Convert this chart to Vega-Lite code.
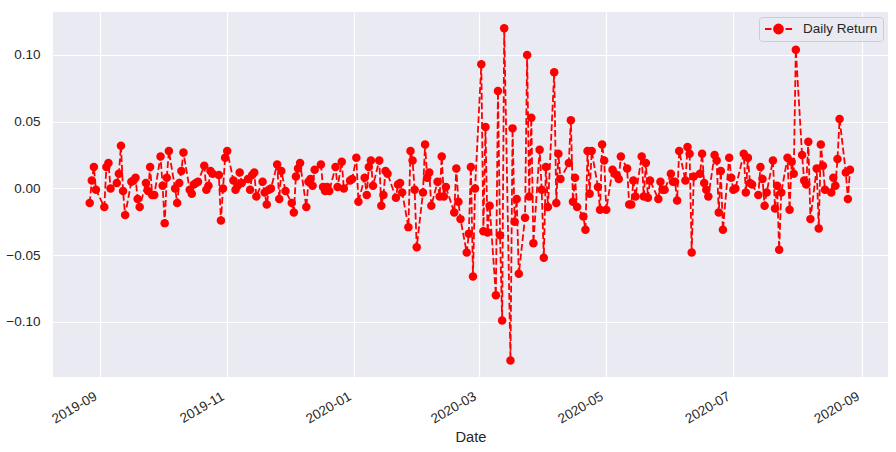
{
  "$schema": "https://vega.github.io/schema/vega-lite/v6.json",
  "width": 835,
  "height": 365,
  "autosize": "none",
  "padding": {"left": 53, "top": 12, "right": 8, "bottom": 75},
  "background": "white",
  "config": {
    "view": {"fill": "#EAEAF2", "stroke": null},
    "font": "Liberation Sans",
    "axis": {
      "domain": false,
      "ticks": false,
      "grid": true,
      "gridColor": "white",
      "gridWidth": 1.2,
      "labelFont": "Liberation Sans",
      "labelFontSize": 13.5,
      "labelColor": "#262626",
      "titleFont": "Liberation Sans",
      "titleFontSize": 14.7,
      "titleFontWeight": "normal",
      "titleColor": "#262626"
    }
  },
  "data": {
    "values": [
      {"Date": "2019-08-27", "Daily Return": -0.011},
      {"Date": "2019-08-28", "Daily Return": 0.006},
      {"Date": "2019-08-29", "Daily Return": 0.016},
      {"Date": "2019-08-30", "Daily Return": -0.001},
      {"Date": "2019-09-03", "Daily Return": -0.014},
      {"Date": "2019-09-04", "Daily Return": 0.016},
      {"Date": "2019-09-05", "Daily Return": 0.019},
      {"Date": "2019-09-06", "Daily Return": 0.000},
      {"Date": "2019-09-09", "Daily Return": 0.004},
      {"Date": "2019-09-10", "Daily Return": 0.011},
      {"Date": "2019-09-11", "Daily Return": 0.032},
      {"Date": "2019-09-12", "Daily Return": -0.002},
      {"Date": "2019-09-13", "Daily Return": -0.020},
      {"Date": "2019-09-16", "Daily Return": 0.005},
      {"Date": "2019-09-17", "Daily Return": 0.006},
      {"Date": "2019-09-18", "Daily Return": 0.008},
      {"Date": "2019-09-19", "Daily Return": -0.008},
      {"Date": "2019-09-20", "Daily Return": -0.014},
      {"Date": "2019-09-23", "Daily Return": 0.004},
      {"Date": "2019-09-24", "Daily Return": -0.002},
      {"Date": "2019-09-25", "Daily Return": 0.016},
      {"Date": "2019-09-26", "Daily Return": -0.005},
      {"Date": "2019-09-27", "Daily Return": -0.005},
      {"Date": "2019-09-30", "Daily Return": 0.024},
      {"Date": "2019-10-01", "Daily Return": 0.002},
      {"Date": "2019-10-02", "Daily Return": -0.026},
      {"Date": "2019-10-03", "Daily Return": 0.008},
      {"Date": "2019-10-04", "Daily Return": 0.028},
      {"Date": "2019-10-07", "Daily Return": 0.000},
      {"Date": "2019-10-08", "Daily Return": -0.011},
      {"Date": "2019-10-09", "Daily Return": 0.004},
      {"Date": "2019-10-10", "Daily Return": 0.013},
      {"Date": "2019-10-11", "Daily Return": 0.027},
      {"Date": "2019-10-14", "Daily Return": -0.001},
      {"Date": "2019-10-15", "Daily Return": -0.004},
      {"Date": "2019-10-16", "Daily Return": 0.003},
      {"Date": "2019-10-17", "Daily Return": 0.004},
      {"Date": "2019-10-18", "Daily Return": 0.005},
      {"Date": "2019-10-21", "Daily Return": 0.017},
      {"Date": "2019-10-22", "Daily Return": -0.001},
      {"Date": "2019-10-23", "Daily Return": 0.002},
      {"Date": "2019-10-24", "Daily Return": 0.013},
      {"Date": "2019-10-25", "Daily Return": 0.011},
      {"Date": "2019-10-28", "Daily Return": 0.010},
      {"Date": "2019-10-29", "Daily Return": -0.024},
      {"Date": "2019-10-30", "Daily Return": 0.000},
      {"Date": "2019-10-31", "Daily Return": 0.023},
      {"Date": "2019-11-01", "Daily Return": 0.028},
      {"Date": "2019-11-04", "Daily Return": 0.006},
      {"Date": "2019-11-05", "Daily Return": -0.001},
      {"Date": "2019-11-06", "Daily Return": 0.002},
      {"Date": "2019-11-07", "Daily Return": 0.012},
      {"Date": "2019-11-08", "Daily Return": 0.004},
      {"Date": "2019-11-11", "Daily Return": 0.007},
      {"Date": "2019-11-12", "Daily Return": -0.001},
      {"Date": "2019-11-13", "Daily Return": 0.010},
      {"Date": "2019-11-14", "Daily Return": 0.012},
      {"Date": "2019-11-15", "Daily Return": -0.006},
      {"Date": "2019-11-18", "Daily Return": 0.005},
      {"Date": "2019-11-19", "Daily Return": -0.003},
      {"Date": "2019-11-20", "Daily Return": -0.012},
      {"Date": "2019-11-21", "Daily Return": -0.001},
      {"Date": "2019-11-22", "Daily Return": 0.000},
      {"Date": "2019-11-25", "Daily Return": 0.018},
      {"Date": "2019-11-26", "Daily Return": -0.008},
      {"Date": "2019-11-27", "Daily Return": 0.013},
      {"Date": "2019-11-29", "Daily Return": -0.002},
      {"Date": "2019-12-02", "Daily Return": -0.011},
      {"Date": "2019-12-03", "Daily Return": -0.018},
      {"Date": "2019-12-04", "Daily Return": 0.009},
      {"Date": "2019-12-05", "Daily Return": 0.015},
      {"Date": "2019-12-06", "Daily Return": 0.019},
      {"Date": "2019-12-09", "Daily Return": -0.014},
      {"Date": "2019-12-10", "Daily Return": 0.005},
      {"Date": "2019-12-11", "Daily Return": 0.007},
      {"Date": "2019-12-12", "Daily Return": 0.002},
      {"Date": "2019-12-13", "Daily Return": 0.014},
      {"Date": "2019-12-16", "Daily Return": 0.018},
      {"Date": "2019-12-17", "Daily Return": 0.001},
      {"Date": "2019-12-18", "Daily Return": -0.002},
      {"Date": "2019-12-19", "Daily Return": 0.001},
      {"Date": "2019-12-20", "Daily Return": -0.002},
      {"Date": "2019-12-23", "Daily Return": 0.016},
      {"Date": "2019-12-24", "Daily Return": 0.001},
      {"Date": "2019-12-26", "Daily Return": 0.020},
      {"Date": "2019-12-27", "Daily Return": 0.000},
      {"Date": "2019-12-30", "Daily Return": 0.006},
      {"Date": "2019-12-31", "Daily Return": 0.007},
      {"Date": "2020-01-02", "Daily Return": 0.023},
      {"Date": "2020-01-03", "Daily Return": -0.010},
      {"Date": "2020-01-06", "Daily Return": 0.008},
      {"Date": "2020-01-07", "Daily Return": -0.005},
      {"Date": "2020-01-08", "Daily Return": 0.016},
      {"Date": "2020-01-09", "Daily Return": 0.021},
      {"Date": "2020-01-10", "Daily Return": 0.002},
      {"Date": "2020-01-13", "Daily Return": 0.021},
      {"Date": "2020-01-14", "Daily Return": -0.013},
      {"Date": "2020-01-15", "Daily Return": -0.005},
      {"Date": "2020-01-16", "Daily Return": 0.013},
      {"Date": "2020-01-17", "Daily Return": 0.011},
      {"Date": "2020-01-21", "Daily Return": -0.007},
      {"Date": "2020-01-22", "Daily Return": 0.003},
      {"Date": "2020-01-23", "Daily Return": 0.004},
      {"Date": "2020-01-24", "Daily Return": -0.003},
      {"Date": "2020-01-27", "Daily Return": -0.029},
      {"Date": "2020-01-28", "Daily Return": 0.028},
      {"Date": "2020-01-29", "Daily Return": 0.021},
      {"Date": "2020-01-30", "Daily Return": -0.001},
      {"Date": "2020-01-31", "Daily Return": -0.044},
      {"Date": "2020-02-03", "Daily Return": -0.003},
      {"Date": "2020-02-04", "Daily Return": 0.033},
      {"Date": "2020-02-05", "Daily Return": 0.008},
      {"Date": "2020-02-06", "Daily Return": 0.012},
      {"Date": "2020-02-07", "Daily Return": -0.013},
      {"Date": "2020-02-10", "Daily Return": 0.005},
      {"Date": "2020-02-11", "Daily Return": -0.006},
      {"Date": "2020-02-12", "Daily Return": 0.024},
      {"Date": "2020-02-13", "Daily Return": -0.006},
      {"Date": "2020-02-14", "Daily Return": 0.001},
      {"Date": "2020-02-18", "Daily Return": -0.018},
      {"Date": "2020-02-19", "Daily Return": 0.015},
      {"Date": "2020-02-20", "Daily Return": -0.010},
      {"Date": "2020-02-21", "Daily Return": -0.023},
      {"Date": "2020-02-24", "Daily Return": -0.048},
      {"Date": "2020-02-25", "Daily Return": -0.034},
      {"Date": "2020-02-26", "Daily Return": 0.016},
      {"Date": "2020-02-27", "Daily Return": -0.066},
      {"Date": "2020-02-28", "Daily Return": 0.000},
      {"Date": "2020-03-02", "Daily Return": 0.093},
      {"Date": "2020-03-03", "Daily Return": -0.032},
      {"Date": "2020-03-04", "Daily Return": 0.046},
      {"Date": "2020-03-05", "Daily Return": -0.033},
      {"Date": "2020-03-06", "Daily Return": -0.013},
      {"Date": "2020-03-09", "Daily Return": -0.080},
      {"Date": "2020-03-10", "Daily Return": 0.073},
      {"Date": "2020-03-11", "Daily Return": -0.035},
      {"Date": "2020-03-12", "Daily Return": -0.099},
      {"Date": "2020-03-13", "Daily Return": 0.120},
      {"Date": "2020-03-16", "Daily Return": -0.129},
      {"Date": "2020-03-17", "Daily Return": 0.045},
      {"Date": "2020-03-18", "Daily Return": -0.025},
      {"Date": "2020-03-19", "Daily Return": -0.008},
      {"Date": "2020-03-20", "Daily Return": -0.064},
      {"Date": "2020-03-23", "Daily Return": -0.022},
      {"Date": "2020-03-24", "Daily Return": 0.100},
      {"Date": "2020-03-25", "Daily Return": -0.006},
      {"Date": "2020-03-26", "Daily Return": 0.053},
      {"Date": "2020-03-27", "Daily Return": -0.041},
      {"Date": "2020-03-30", "Daily Return": 0.029},
      {"Date": "2020-03-31", "Daily Return": -0.001},
      {"Date": "2020-04-01", "Daily Return": -0.052},
      {"Date": "2020-04-02", "Daily Return": 0.016},
      {"Date": "2020-04-03", "Daily Return": -0.014},
      {"Date": "2020-04-06", "Daily Return": 0.087},
      {"Date": "2020-04-07", "Daily Return": -0.011},
      {"Date": "2020-04-08", "Daily Return": 0.026},
      {"Date": "2020-04-09", "Daily Return": 0.007},
      {"Date": "2020-04-13", "Daily Return": 0.019},
      {"Date": "2020-04-14", "Daily Return": 0.051},
      {"Date": "2020-04-15", "Daily Return": -0.010},
      {"Date": "2020-04-16", "Daily Return": 0.008},
      {"Date": "2020-04-17", "Daily Return": -0.014},
      {"Date": "2020-04-20", "Daily Return": -0.021},
      {"Date": "2020-04-21", "Daily Return": -0.031},
      {"Date": "2020-04-22", "Daily Return": 0.028},
      {"Date": "2020-04-23", "Daily Return": -0.004},
      {"Date": "2020-04-24", "Daily Return": 0.028},
      {"Date": "2020-04-27", "Daily Return": 0.001},
      {"Date": "2020-04-28", "Daily Return": -0.016},
      {"Date": "2020-04-29", "Daily Return": 0.033},
      {"Date": "2020-04-30", "Daily Return": 0.021},
      {"Date": "2020-05-01", "Daily Return": -0.016},
      {"Date": "2020-05-04", "Daily Return": 0.014},
      {"Date": "2020-05-05", "Daily Return": 0.011},
      {"Date": "2020-05-06", "Daily Return": 0.010},
      {"Date": "2020-05-07", "Daily Return": 0.007},
      {"Date": "2020-05-08", "Daily Return": 0.024},
      {"Date": "2020-05-11", "Daily Return": 0.015},
      {"Date": "2020-05-12", "Daily Return": -0.012},
      {"Date": "2020-05-13", "Daily Return": -0.012},
      {"Date": "2020-05-14", "Daily Return": 0.006},
      {"Date": "2020-05-15", "Daily Return": -0.006},
      {"Date": "2020-05-18", "Daily Return": 0.024},
      {"Date": "2020-05-19", "Daily Return": -0.006},
      {"Date": "2020-05-20", "Daily Return": 0.019},
      {"Date": "2020-05-21", "Daily Return": -0.007},
      {"Date": "2020-05-22", "Daily Return": 0.006},
      {"Date": "2020-05-26", "Daily Return": -0.008},
      {"Date": "2020-05-27", "Daily Return": 0.005},
      {"Date": "2020-05-28", "Daily Return": -0.001},
      {"Date": "2020-05-29", "Daily Return": -0.001},
      {"Date": "2020-06-01", "Daily Return": 0.011},
      {"Date": "2020-06-02", "Daily Return": 0.005},
      {"Date": "2020-06-03", "Daily Return": 0.005},
      {"Date": "2020-06-04", "Daily Return": -0.009},
      {"Date": "2020-06-05", "Daily Return": 0.028},
      {"Date": "2020-06-08", "Daily Return": 0.006},
      {"Date": "2020-06-09", "Daily Return": 0.031},
      {"Date": "2020-06-10", "Daily Return": 0.026},
      {"Date": "2020-06-11", "Daily Return": -0.048},
      {"Date": "2020-06-12", "Daily Return": 0.009},
      {"Date": "2020-06-15", "Daily Return": 0.011},
      {"Date": "2020-06-16", "Daily Return": 0.026},
      {"Date": "2020-06-17", "Daily Return": 0.004},
      {"Date": "2020-06-18", "Daily Return": -0.001},
      {"Date": "2020-06-19", "Daily Return": -0.006},
      {"Date": "2020-06-22", "Daily Return": 0.025},
      {"Date": "2020-06-23", "Daily Return": 0.021},
      {"Date": "2020-06-24", "Daily Return": -0.018},
      {"Date": "2020-06-25", "Daily Return": 0.013},
      {"Date": "2020-06-26", "Daily Return": -0.031},
      {"Date": "2020-06-29", "Daily Return": 0.023},
      {"Date": "2020-06-30", "Daily Return": 0.008},
      {"Date": "2020-07-01", "Daily Return": -0.001},
      {"Date": "2020-07-02", "Daily Return": 0.000},
      {"Date": "2020-07-06", "Daily Return": 0.026},
      {"Date": "2020-07-07", "Daily Return": -0.003},
      {"Date": "2020-07-08", "Daily Return": 0.023},
      {"Date": "2020-07-09", "Daily Return": 0.004},
      {"Date": "2020-07-10", "Daily Return": 0.003},
      {"Date": "2020-07-13", "Daily Return": -0.005},
      {"Date": "2020-07-14", "Daily Return": 0.016},
      {"Date": "2020-07-15", "Daily Return": 0.007},
      {"Date": "2020-07-16", "Daily Return": -0.013},
      {"Date": "2020-07-17", "Daily Return": -0.003},
      {"Date": "2020-07-20", "Daily Return": 0.021},
      {"Date": "2020-07-21", "Daily Return": -0.015},
      {"Date": "2020-07-22", "Daily Return": 0.002},
      {"Date": "2020-07-23", "Daily Return": -0.046},
      {"Date": "2020-07-24", "Daily Return": -0.003},
      {"Date": "2020-07-27", "Daily Return": 0.023},
      {"Date": "2020-07-28", "Daily Return": -0.016},
      {"Date": "2020-07-29", "Daily Return": 0.020},
      {"Date": "2020-07-30", "Daily Return": 0.011},
      {"Date": "2020-07-31", "Daily Return": 0.104},
      {"Date": "2020-08-03", "Daily Return": 0.025},
      {"Date": "2020-08-04", "Daily Return": 0.006},
      {"Date": "2020-08-05", "Daily Return": 0.003},
      {"Date": "2020-08-06", "Daily Return": 0.035},
      {"Date": "2020-08-07", "Daily Return": -0.023},
      {"Date": "2020-08-10", "Daily Return": 0.015},
      {"Date": "2020-08-11", "Daily Return": -0.030},
      {"Date": "2020-08-12", "Daily Return": 0.033},
      {"Date": "2020-08-13", "Daily Return": 0.017},
      {"Date": "2020-08-14", "Daily Return": -0.001},
      {"Date": "2020-08-17", "Daily Return": -0.003},
      {"Date": "2020-08-18", "Daily Return": 0.008},
      {"Date": "2020-08-19", "Daily Return": 0.002},
      {"Date": "2020-08-20", "Daily Return": 0.022},
      {"Date": "2020-08-21", "Daily Return": 0.052},
      {"Date": "2020-08-24", "Daily Return": 0.012},
      {"Date": "2020-08-25", "Daily Return": -0.008},
      {"Date": "2020-08-26", "Daily Return": 0.014}
    ]
  },
  "encoding": {
    "x": {
      "field": "Date",
      "type": "temporal",
      "scale": {
        "type": "utc",
        "domain": [
          {"year": 2019, "month": 8, "date": 9, "hours": 9, "utc": true},
          {"year": 2020, "month": 9, "date": 13, "hours": 6, "utc": true}
        ]
      },
      "axis": {
        "values": [
          {"year": 2019, "month": 9, "date": 1, "utc": true},
          {"year": 2019, "month": 11, "date": 1, "utc": true},
          {"year": 2020, "month": 1, "date": 1, "utc": true},
          {"year": 2020, "month": 3, "date": 1, "utc": true},
          {"year": 2020, "month": 5, "date": 1, "utc": true},
          {"year": 2020, "month": 7, "date": 1, "utc": true},
          {"year": 2020, "month": 9, "date": 1, "utc": true}
        ],
        "labelExpr": "utcFormat(datum.value, '%Y-%m')",
        "labelAngle": -30,
        "labelAlign": "right",
        "labelBaseline": "top",
        "labelPadding": 12,
        "labelOffset": -8,
        "labelFlush": false,
        "labelOverlap": false,
        "title": "Date",
        "titleY": 64,
        "titleBaseline": "alphabetic"
      }
    },
    "y": {
      "field": "Daily Return",
      "type": "quantitative",
      "scale": {"domain": [-0.1413, 0.1322], "nice": false, "zero": false},
      "axis": {
        "values": [-0.1, -0.05, 0, 0.05, 0.1],
        "format": ".2f",
        "title": null,
        "labelPadding": 13
      }
    }
  },
  "layer": [
    {
      "mark": {
        "type": "line",
        "color": "#FF0000",
        "strokeDash": [6.8, 2.9],
        "strokeWidth": 1.8
      }
    },
    {
      "mark": {
        "type": "point",
        "shape": "circle",
        "filled": true,
        "size": 72,
        "opacity": 1
      },
      "encoding": {
        "color": {
          "datum": "Daily Return",
          "type": "nominal",
          "scale": {"range": ["#FF0000"]},
          "legend": {
            "orient": "top-right",
            "offset": 5,
            "title": null,
            "symbolType": "M-1,0L-0.52,0M0.52,0L1,0M0.333,0A0.333,0.333 0 1,1 -0.333,0A0.333,0.333 0 1,1 0.333,0Z",
            "symbolSize": 729,
            "symbolStrokeWidth": 1.8,
            "symbolFillColor": "#FF0000",
            "symbolStrokeColor": "#FF0000",
            "symbolOpacity": 1,
            "clipHeight": 14,
            "labelFont": "Liberation Sans",
            "labelFontSize": 13.5,
            "labelColor": "#262626",
            "labelOffset": 10,
            "fillColor": "#EAEAF2",
            "strokeColor": "#CCCCCC",
            "cornerRadius": 3,
            "padding": 5
          }
        }
      }
    }
  ]
}
